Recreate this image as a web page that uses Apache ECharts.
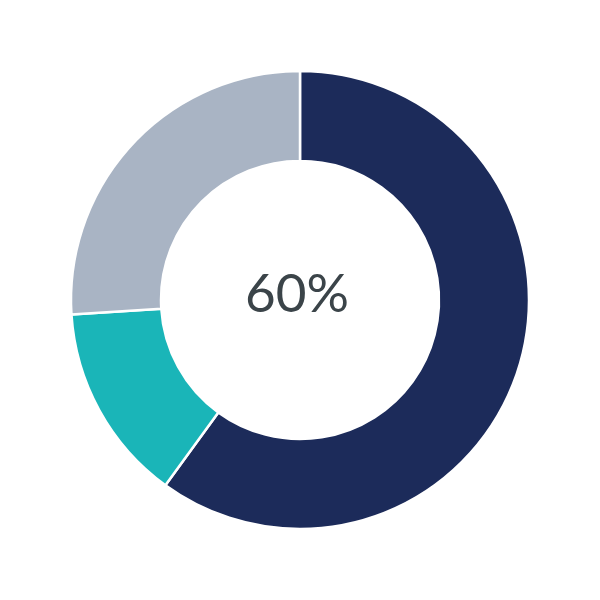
<!DOCTYPE html>
<html>
<head>
<meta charset="utf-8">
<script src="https://cdn.jsdelivr.net/npm/echarts@6/dist/echarts.min.js"></script>
<style>html,body{margin:0;padding:0;background:#fff;}#c{width:600px;height:600px;}</style>
</head>
<body>
<div id="c"></div>
<script>
const categories = ['A', 'B', 'C'];
const values = [60, 14, 26];
const colors = ['#1c2b5a', '#1ab5b8', '#a9b4c4'];
const centerLabel = '60%';

const chart = echarts.init(document.getElementById('c'), null, {renderer: 'canvas'});
chart.setOption({
  animation: false,
  backgroundColor: '#ffffff',
  graphic: [{
    type: 'text',
    style: {
      text: centerLabel,
      fontFamily: 'Lato',
      fontWeight: 400,
      fontSize: 53,
      fill: '#3b4449',
      textAlign: 'center',
      textVerticalAlign: 'middle'
    },
    x: 297, y: 295
  }],
  series: [{
    type: 'pie',
    center: [300, 300],
    radius: [139, 229],
    startAngle: 90,
    clockwise: true,
    label: {show: false},
    labelLine: {show: false},
    itemStyle: {borderColor: '#ffffff', borderWidth: 2.5},
    emphasis: {disabled: true},
    data: categories.map((c, i) => ({name: c, value: values[i], itemStyle: {color: colors[i]}}))
  }]
});
</script>
</body>
</html>
